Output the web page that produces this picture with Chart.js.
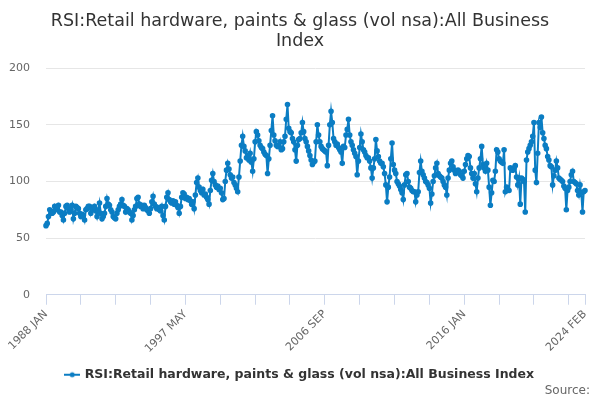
<!DOCTYPE html>
<html>
<head>
<meta charset="utf-8">
<script src="https://cdn.jsdelivr.net/npm/chart.js@4/dist/chart.umd.min.js"></script>
<style>
    body { margin: 0; background: #fff; }
    #wrap { position: relative; width: 600px; height: 400px; }
    #source { position: absolute; right: 10px; bottom: 3px; font: 12px "DejaVu Sans", sans-serif; color: #666; }
</style>
</head>
<body>
<div id="wrap">
    <canvas id="rsi-chart" width="600" height="400"></canvas>
    <div id="source">Source:</div>
</div>
<script>
// Monthly index values, one array per year
const startYear = 1988;
const monthNames = ['JAN', 'FEB', 'MAR', 'APR', 'MAY', 'JUN', 'JUL', 'AUG', 'SEP', 'OCT', 'NOV', 'DEC'];
const values1988 = [61, 63, 69, 75, 74, 72, 73, 78, 75, 77, 79, 73];
const values1989 = [73, 70, 66, 72, 78, 79, 76, 73, 75, 79, 67, 72];
const values1990 = [78, 77, 76, 72, 69, 71, 70, 66, 75, 76, 78, 78];
const values1991 = [72, 76, 75, 78, 74, 69, 75, 81, 72, 67, 69, 72];
const values1992 = [78, 85, 80, 79, 75, 73, 69, 68, 67, 72, 75, 78];
const values1993 = [80, 84, 79, 78, 73, 76, 75, 73, 72, 66, 70, 75];
const values1994 = [78, 85, 86, 80, 78, 79, 76, 79, 77, 75, 74, 72];
const values1995 = [76, 82, 87, 80, 78, 76, 77, 75, 74, 78, 70, 66];
const values1996 = [78, 86, 90, 84, 82, 81, 83, 80, 82, 79, 77, 72];
const values1997 = [78, 86, 90, 89, 85, 86, 84, 85, 83, 80, 82, 76];
const values1998 = [88, 99, 103, 95, 92, 90, 93, 88, 89, 86, 84, 80];
const values1999 = [92, 101, 107, 100, 97, 95, 96, 93, 94, 90, 84, 85];
const values2000 = [100, 110, 116, 111, 106, 103, 104, 99, 97, 94, 91, 104];
const values2001 = [118, 132, 140, 131, 127, 121, 123, 119, 125, 117, 109, 120];
const values2002 = [135, 144, 141, 136, 132, 130, 129, 126, 124, 123, 107, 120];
const values2003 = [132, 145, 158, 141, 136, 132, 131, 131, 135, 128, 129, 135];
const values2004 = [140, 155, 168, 147, 144, 143, 138, 135, 128, 118, 132, 137];
const values2005 = [138, 143, 152, 144, 138, 135, 131, 127, 123, 119, 115, 117];
const values2006 = [118, 135, 150, 141, 135, 131, 129, 128, 127, 126, 114, 132];
const values2007 = [150, 162, 152, 138, 135, 132, 133, 130, 128, 126, 116, 131];
const values2008 = [130, 141, 146, 155, 141, 135, 132, 128, 125, 122, 106, 118];
const values2009 = [130, 142, 135, 128, 126, 123, 121, 121, 118, 112, 103, 112];
const values2010 = [120, 137, 127, 122, 118, 116, 116, 113, 107, 97, 82, 95];
const values2011 = [104, 120, 134, 115, 110, 107, 100, 98, 96, 93, 90, 84];
const values2012 = [97, 106, 107, 100, 95, 94, 92, 91, 91, 82, 88, 91];
const values2013 = [108, 118, 109, 106, 103, 100, 99, 97, 94, 81, 89, 100];
const values2014 = [105, 112, 116, 107, 105, 104, 103, 100, 97, 95, 88, 103];
const values2015 = [110, 116, 118, 113, 110, 107, 108, 110, 109, 106, 105, 103];
const values2016 = [109, 115, 120, 123, 122, 112, 107, 103, 107, 98, 91, 103];
const values2017 = [112, 120, 131, 115, 112, 109, 116, 110, 95, 79, 90, 101];
const values2018 = [100, 109, 128, 126, 120, 118, 117, 116, 128, 91, 95, 93];
const values2019 = [92, 112, 111, 110, 112, 114, 104, 97, 103, 80, 103, 102];
const values2020 = [100, 73, 119, 126, 129, 132, 135, 140, 152, 110, 99, 125];
const values2021 = [152, 148, 157, 143, 138, 132, 129, 122, 119, 114, 113, 97];
const values2022 = [105, 110, 118, 112, 103, 102, 101, 100, 96, 94, 75, 92];
const values2023 = [95, 100, 106, 109, 100, 99, 98, 92, 88, 97, 90, 73];
const values2024 = [91, 92];

const seriesName = 'RSI:Retail hardware, paints & glass (vol nsa):All Business Index';
const titleLines = ['RSI:Retail hardware, paints & glass (vol nsa):All Business', 'Index'];
const yTicks = [0, 50, 100, 150, 200];

const yearValues = [values1988, values1989, values1990, values1991, values1992, values1993, values1994,
    values1995, values1996, values1997, values1998, values1999, values2000, values2001, values2002,
    values2003, values2004, values2005, values2006, values2007, values2008, values2009, values2010,
    values2011, values2012, values2013, values2014, values2015, values2016, values2017, values2018,
    values2019, values2020, values2021, values2022, values2023, values2024];

// flatten into one series + month labels like "1988 JAN"
const labels = [];
const values = [];
yearValues.forEach((arr, y) => {
    arr.forEach((v, m) => {
        labels.push((startYear + y) + ' ' + monthNames[m]);
        values.push(v);
    });
});
const lastIndex = labels.length - 1;
const lineColor = '#0b7dc3';

// little line + dot icon for the legend
const legendIcon = document.createElement('canvas');
legendIcon.width = 16;
legendIcon.height = 8;
const ic = legendIcon.getContext('2d');
ic.strokeStyle = lineColor;
ic.lineWidth = 2;
ic.beginPath();
ic.moveTo(0, 4);
ic.lineTo(16, 4);
ic.stroke();
ic.fillStyle = lineColor;
ic.beginPath();
ic.arc(8, 4, 2.5, 0, Math.PI * 2);
ic.fill();

const isTick = (i) => i % 28 === 0 || i === lastIndex;

let ctx = document.getElementById('rsi-chart').getContext('2d');
let chart = new Chart(ctx, {
    type: 'line',
    data: {
        labels: labels,
        datasets: [{
            label: seriesName,
            data: values,
            borderColor: lineColor,
            backgroundColor: lineColor,
            borderWidth: 2,
            pointRadius: 1.8,
            pointHoverRadius: 3,
            tension: 0
        }]
    },
    options: {
        responsive: false,
        animation: false,
        layout: { padding: { left: 0, right: 0, top: 0, bottom: 9 } },
        scales: {
            x: {
                // rotated first label may hang past the plot edge, like the original
                afterFit: (axis) => { axis.paddingLeft = 40; axis.paddingRight = 15; },
                grid: {
                    drawOnChartArea: false,
                    tickLength: 10,
                    tickColor: (c) => isTick(c.index) ? '#ccd6eb' : 'transparent'
                },
                border: { color: '#ccd6eb' },
                ticks: {
                    autoSkip: false,
                    minRotation: 45,
                    maxRotation: 45,
                    color: '#666',
                    font: { family: 'DejaVu Sans', size: 11 },
                    callback: (val, i) => (i % 112 === 0 || i === lastIndex) ? labels[i] : ''
                }
            },
            y: {
                min: 0,
                max: 200,
                afterBuildTicks: (axis) => { axis.ticks = yTicks.map(v => ({ value: v })); },
                afterFit: (axis) => { axis.width = 46; },
                grid: { color: '#e6e6e6', drawTicks: false },
                border: { display: false },
                ticks: {
                    padding: 16,
                    color: '#666',
                    font: { family: 'DejaVu Sans', size: 11 }
                }
            }
        },
        plugins: {
            title: {
                display: true,
                text: titleLines,
                color: '#333',
                font: { family: 'DejaVu Sans', size: 17.5, weight: 'normal', lineHeight: 1.15 },
                padding: { top: 11, bottom: 17 }
            },
            legend: {
                position: 'bottom',
                labels: {
                    color: '#333',
                    font: { family: 'DejaVu Sans', size: 12.5, weight: 'bold' },
                    usePointStyle: true,
                    generateLabels: (c) => Chart.defaults.plugins.legend.labels.generateLabels(c)
                        .map(l => Object.assign(l, { pointStyle: legendIcon }))
                }
            },
            tooltip: { enabled: false }
        }
    }
});
</script>
</body>
</html>
